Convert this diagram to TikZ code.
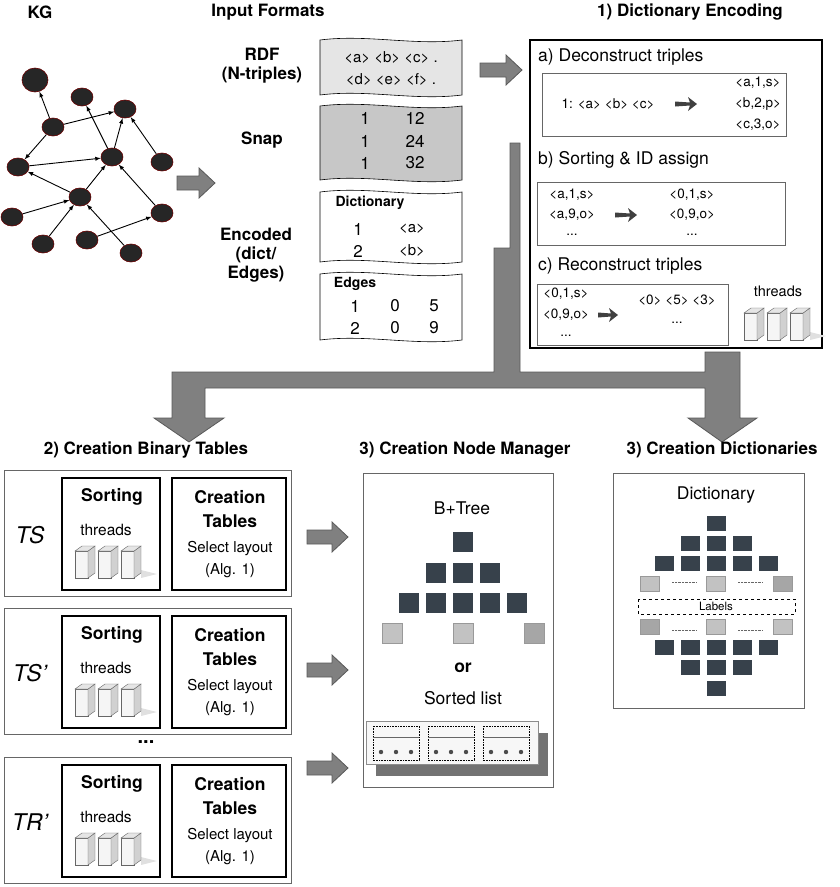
\documentclass[tikz,border=0pt]{standalone}
\usepackage{fontspec}
\setmainfont{TeX Gyre Heros}
\usetikzlibrary{shapes.geometric}
\begin{document}
\begin{tikzpicture}[x=1pt,y=-1pt,
  kg/.style={ellipse,draw=red!40!black,fill=black!85,minimum width=22pt,minimum height=18pt,inner sep=0pt,line width=0.6pt},
  kge/.style={-latex,line width=0.9pt,shorten >=0pt},
  title/.style={font=\bfseries\fontsize{17}{20}\selectfont,inner sep=0pt},
  lbl/.style={font=\bfseries\fontsize{17}{19}\selectfont,align=center,inner sep=0pt},
  txt/.style={font=\fontsize{15}{17}\selectfont,inner sep=0pt},
  big/.style={font=\fontsize{17}{19}\selectfont,inner sep=0pt},
  sm/.style={font=\fontsize{13.5}{15}\selectfont,inner sep=0pt},
  sec/.style={font=\fontsize{17.5}{20}\selectfont,inner sep=0pt,anchor=west},
  thin box/.style={draw=black!60,line width=0.6pt},
  garrow/.style={fill=black!50,draw=black!65,line width=0.8pt},
  ]
\definecolor{dk}{HTML}{37414B}
\definecolor{lt}{HTML}{C2C2C2}
\definecolor{md}{HTML}{A6A6A6}
\useasboundingbox (0,0) rectangle (839,887);
\newcommand\rarr[3]{\filldraw[garrow] (#1,#3-7) -- (#2-16,#3-7) -- (#2-16,#3-15) -- (#2,#3) -- (#2-16,#3+15) -- (#2-16,#3+7) -- (#1,#3+7) -- cycle;}
\newcommand\wavy[5]{\filldraw[fill=#5,draw=black,line width=0.6pt] (#1,#2) .. controls ({#1+(#3-#1)/3},{#2-6}) and ({#1+2*(#3-#1)/3},{#2+6}) .. (#3,#2) -- (#3,#4) .. controls ({#1+2*(#3-#1)/3},{#4+6}) and ({#1+(#3-#1)/3},{#4-6}) .. (#1,#4) -- cycle;}
\newcommand\cube[2]{\begin{scope}[shift={(#1,#2)}]
 \filldraw[fill=black!4,draw=black!60] (0,5) rectangle (13,32);
 \filldraw[fill=black!18,draw=black!60] (13,5) -- (20,0) -- (20,27) -- (13,32) -- cycle;
 \filldraw[fill=black!10,draw=black!60] (0,5) -- (7,0) -- (20,0) -- (13,5) -- cycle;
 \end{scope}}
\newcommand\threecubes[2]{\fill[black!12] (#1+66,#2+24) -- (#1+82,#2+28) -- (#1+66,#2+32) -- cycle;\cube{#1}{#2}\cube{#1+23}{#2}\cube{#1+46}{#2}}

% titles
\node[title] (tkg) at (40,12) {KG};
\node[title] (tin) at (268,12) {Input Formats};
\node[title] (tde) at (690,12) {1) Dictionary Encoding};

% KG
\node[kg,minimum width=26pt,minimum height=24pt] (n1) at (35,80) {};
\node[kg] (n2) at (82,97) {};
\node[kg] (n3) at (125,109) {};
\node[kg] (n4) at (53,127) {};
\node[kg] (n5) at (112,157) {};
\node[kg] (n6) at (162,162) {};
\node[kg] (n7) at (18,167) {};
\node[kg] (n8) at (80,197) {};
\node[kg] (n9) at (162,213) {};
\node[kg] (n10) at (12,217) {};
\node[kg] (n11) at (43,244) {};
\node[kg] (n12) at (87,240) {};
\node[kg] (n13) at (131,253) {};
\foreach \a/\b in {n4/n1,n4/n3,n4/n7,n5/n2,n5/n3,n6/n3,n7/n5,n8/n7,n8/n5,n10/n8,n11/n8,n13/n8,n9/n5,n12/n9}
  \draw[kge] (\a) -- (\b);
\rarr{177}{215}{183}

% input formats
\node[lbl] (lrdf) at (262,66) {RDF\\(N-triples)};
\node[lbl] (lsnap) at (262,140) {Snap};
\node[lbl] (lenc) at (256,255) {Encoded\\(dict/\\Edges)};
\wavy{320}{40}{462}{95}{black!10}
\wavy{320}{106}{462}{180}{black!22}
\wavy{320}{192}{462}{262}{white}
\wavy{320}{274}{462}{340}{white}
\node[txt] (r1) at (391,58) {<a> <b> <c> .};
\node[txt] (r2) at (391,80) {<d> <e> <f> .};
\foreach \y/\v [count=\i] in {118/12,141/24,163/32}{
  \node[big] (sa\i) at (365,\y) {1};
  \node[big] (sb\i) at (415,\y) {\v};}
\node[txt,font=\bfseries\fontsize{14}{16}\selectfont] (dh) at (370,203) {Dictionary};
\node[big] (d1) at (358,229) {1};
\node[txt] (d1b) at (412,229) {<a>};
\node[big] (d2) at (358,251) {2};
\node[txt] (d2b) at (412,251) {<b>};
\node[txt,font=\bfseries\fontsize{14}{16}\selectfont] (eh) at (355,284) {Edges};
\foreach \y/\a/\b/\c [count=\i] in {306/1/0/5,328/2/0/9}{
  \node[big] (ea\i) at (355,\y) {\a};
  \node[big] (eb\i) at (395,\y) {\b};
  \node[big] (ec\i) at (434,\y) {\c};}
\rarr{480}{522}{70}

% big pipe
\filldraw[garrow] (510,143) -- (520,143) -- (520,372) -- (705,372) -- (705,352) -- (740,352) -- (740,418) -- (757,418) -- (722,442) -- (688,418) -- (705,418) -- (705,388) -- (205,388) -- (205,418) -- (224,418) -- (189,442) -- (154,418) -- (172,418) -- (172,372) -- (494,372) -- (494,248) -- (510,248) -- cycle;

% dictionary encoding
\filldraw[fill=white,draw=black,line width=2pt] (530,40) rectangle (822,348);
\node[sec] (sa) at (538,57) {a) Deconstruct triples};
\draw[thin box] (542,73) rectangle (786,136);
\node[sm] (a1) at (608,104) {1: <a> <b> <c>};
\node[sm] (a2) at (758,83) {<a,1,s>};
\node[sm] (a3) at (758,104) {<b,2,p>};
\node[sm] (a4) at (758,125) {<c,3,o>};
\node[sec] (sb) at (538,160) {b) Sorting \& ID assign};
\draw[thin box] (537,182) rectangle (785,245);
\node[sm] (b1) at (572,195) {<a,1,s>};
\node[sm] (b2) at (572,215) {<a,9,o>};
\node[sm] (b3) at (572,235) {...};
\node[sm] (b4) at (692,195) {<0,1,s>};
\node[sm] (b5) at (692,215) {<0,9,o>};
\node[sm] (b6) at (692,235) {...};
\node[sec] (sc) at (538,266) {c) Reconstruct triples};
\draw[thin box] (537,284) rectangle (728,345);
\node[sm] (c1) at (566,294) {<0,1,s>};
\node[sm] (c2) at (566,315) {<0,9,o>};
\node[sm] (c3) at (566,336) {...};
\node[sm] (c4) at (677,300) {<0> <5> <3>};
\node[sm] (c5) at (677,323) {...};
\node[sm,font=\fontsize{14.5}{16}\selectfont] (cth) at (778,291) {threads};
\threecubes{744}{308}
\foreach \x/\y/\l in {675/104/22,615/215/22,598/315/20}
  \fill[black!75] (\x,\y-2.5) -- (\x+\l-7,\y-1.5) -- (\x+\l-9,\y-7) -- (\x+\l,\y) -- (\x+\l-9,\y+7) -- (\x+\l-7,\y+1.5) -- (\x,\y+2.5) -- cycle;

% bottom titles
\node[title] (t2) at (146,450) {2) Creation Binary Tables};
\node[title] (t3) at (465,450) {3) Creation Node Manager};
\node[title] (t4) at (722,450) {3) Creation Dictionaries};

% binary tables panels
\foreach \o/\lab [count=\i] in {0/TS,138/TS',287/TR'}{
  \draw[thin box] (4,470+\o) rectangle (291,596+\o);
  \draw[line width=1.8pt] (62,478+\o) rectangle (160,590+\o);
  \draw[line width=1.8pt] (172,478+\o) rectangle (286,590+\o);
  \node[font=\itshape\fontsize{23}{26}\selectfont,inner sep=0pt] (p\i) at (30,535+\o) {\lab};
  \node[font=\bfseries\fontsize{17.5}{19}\selectfont,inner sep=0pt] (ps\i) at (112,497+\o) {Sorting};
  \node[font=\fontsize{15.5}{17}\selectfont,inner sep=0pt] (pt\i) at (106,530+\o) {threads};
  \node[font=\bfseries\fontsize{17.5}{24}\selectfont,inner sep=0pt,align=center] (pc\i) at (230,509+\o) {Creation\\Tables};
  \node[font=\fontsize{15}{22}\selectfont,inner sep=0pt,align=center] (pl\i) at (230,560+\o) {Select layout\\(Alg. 1)};
}
\threecubes{75}{546}
\threecubes{75}{684}
\threecubes{75}{833}
\node[font=\bfseries\fontsize{20}{20}\selectfont,inner sep=0pt] (dots) at (146,742) {...};
\rarr{307}{348}{537}
\rarr{307}{348}{670}
\rarr{307}{348}{768}

% node manager
\draw[thin box] (363,473) rectangle (553,787);
\node[font=\fontsize{17.5}{20}\selectfont,inner sep=0pt] (bt) at (462,508) {B+Tree};
\foreach \x/\y in {463/542,436/573,463/573,490/573,409/603,436/603,463/603,490/603,517/603}
  \fill[dk] (\x-10,\y-10) rectangle (\x+10,\y+10);
\foreach \x/\c in {392/lt,463/lt,534/md}
  \filldraw[fill=\c,draw=black!40,line width=0.4pt] (\x-10,633-10) rectangle (\x+10,633+10);
\node[font=\bfseries\fontsize{17.5}{20}\selectfont,inner sep=0pt] (or) at (463,668) {or};
\node[font=\fontsize{17.5}{20}\selectfont,inner sep=0pt] (sl) at (463,698) {Sorted list};
\fill[black!55] (376,733) rectangle (548,776);
\filldraw[fill=black!3,draw=black!45] (366,721) rectangle (538,764);
\foreach \x in {373,428,483}{
  \draw[densely dotted,line width=0.6pt] (\x,726) rectangle (\x+46,760);
  \draw[black!60,line width=0.5pt] (\x,737) -- (\x+46,737);
  \foreach \d in {8,23,38} \fill[black!70] (\x+\d,752) circle (2.2);}

% dictionaries
\draw[thin box] (613,473) rectangle (804,708);
\node[font=\fontsize{17.5}{20}\selectfont,inner sep=0pt] (dt) at (716,495) {Dictionary};
\foreach \x/\y in {716/523,690/543,716/543,742/543,664/563,690/563,716/563,742/563,768/563,664/647,690/647,716/647,742/647,768/647,690/667,716/667,742/667,716/688}
  \fill[dk] (\x-9.5,\y-7.5) rectangle (\x+9.5,\y+7.5);
\foreach \x/\y/\c in {650/584/lt,716/584/lt,783/584/md,650/627/md,716/627/lt,783/627/lt}
  \filldraw[fill=\c,draw=black!40,line width=0.4pt] (\x-9.5,\y-7.5) rectangle (\x+9.5,\y+7.5);
\foreach \x/\y in {684/582,750/582,684/630,750/630}
  \draw[densely dotted,black!60] (\x-12,\y) -- (\x+12,\y);
\draw[dashed,line width=0.9pt] (638,599) rectangle (795,614);
\node[font=\fontsize{11.5}{12}\selectfont,inner sep=0pt] (lab) at (716,606.5) {Labels};
\end{tikzpicture}
\end{document}
